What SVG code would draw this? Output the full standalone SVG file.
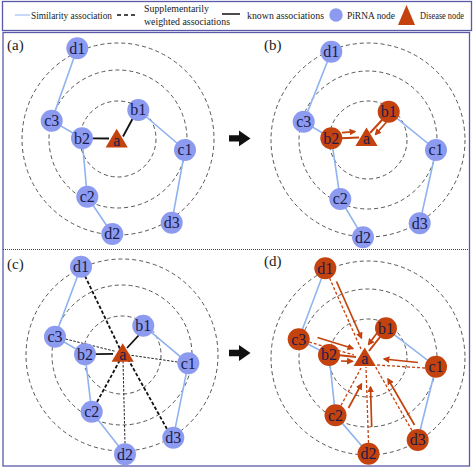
<svg xmlns="http://www.w3.org/2000/svg" width="474" height="470" viewBox="0 0 474 470">
<defs>
<style>
.frame{fill:none;stroke:#5a5aa8;stroke-width:1.3}
.ring{fill:none;stroke:#555;stroke-width:1;stroke-dasharray:4 3}
.sim{stroke:#8fb3ef;stroke-width:1.6;fill:none}
.known{stroke:#111;stroke-width:1.8}
.supT{stroke:#111;stroke-width:1.8;stroke-dasharray:3.5 2}
.supt{stroke:#222;stroke-width:1;stroke-dasharray:2.5 1.5}
.od{stroke:#c4420e;stroke-width:1.3;stroke-dasharray:3 2}
.os{stroke:#c4420e;stroke-width:2}
.oa{stroke:#c4420e;stroke-width:1.7;marker-end:url(#ah)}
.pn{fill:#8c9bf0}
.dn{fill:#c4420e}
.lbl{font-family:"Liberation Serif","DejaVu Serif","Times New Roman",serif;font-size:16px;fill:#1c1c4a;text-anchor:middle}
.pl{font-family:"Liberation Serif","DejaVu Serif","Times New Roman",serif;font-size:15px;fill:#222}
.lg{font-family:"Liberation Serif","DejaVu Serif","Times New Roman",serif;font-size:9.5px;fill:#1a1a1a}
</style>
<marker id="ah" viewBox="0 0 10 10" refX="8" refY="5" markerWidth="4" markerHeight="4" orient="auto" markerUnits="strokeWidth"><path d="M0,0 L10,5 L0,10 z" fill="#c4420e"/></marker>
</defs>
<rect width="474" height="470" fill="#fff"/>

<g id="legend">
<rect class="frame" x="2.5" y="1.5" width="469" height="29"/>
<line x1="15" y1="15" x2="30" y2="15" stroke="#8fb3ef" stroke-width="1"/>
<text class="lg" x="31" y="18.5" textLength="81" lengthAdjust="spacingAndGlyphs">Similarity association</text>
<line x1="117" y1="15" x2="137" y2="15" stroke="#111" stroke-width="1.5" stroke-dasharray="4 3"/>
<text class="lg" x="144" y="12" textLength="65" lengthAdjust="spacingAndGlyphs">Supplementarily</text>
<text class="lg" x="144" y="24.5" textLength="86" lengthAdjust="spacingAndGlyphs">weighted associations</text>
<line x1="222" y1="14" x2="240" y2="14" stroke="#111" stroke-width="1.5"/>
<text class="lg" x="247" y="18.5" textLength="77" lengthAdjust="spacingAndGlyphs">known associations</text>
<circle class="pn" cx="336" cy="15" r="6.7"/>
<text class="lg" x="347" y="18.5" textLength="48" lengthAdjust="spacingAndGlyphs">PiRNA node</text>
<path class="dn" d="M398,25 L406.5,5 L415,25 Z"/>
<text class="lg" x="420" y="18.5" textLength="44" lengthAdjust="spacingAndGlyphs">Disease node</text>
</g>

<g id="frame">
<rect class="frame" x="3" y="32.5" width="466.5" height="433.5"/>
<line x1="3" y1="249.5" x2="469.5" y2="249.5" stroke="#444" stroke-width="1" stroke-dasharray="1 1"/>
<path d="M229,135.2 H239 V130.5 L250.5,138.4 L239,146.3 V141.6 H229 Z" fill="#111"/>
<path d="M229,349.8 H239 V345 L250.5,353 L239,361 V356.2 H229 Z" fill="#111"/>
<text class="pl" x="7" y="50">(a)</text>
<text class="pl" x="264" y="49.5">(b)</text>
<text class="pl" x="7" y="268.5">(c)</text>
<text class="pl" x="264" y="266">(d)</text>
</g>

<g id="rings">
<circle class="ring" cx="118" cy="139" r="38"/><circle class="ring" cx="118" cy="139" r="69"/><circle class="ring" cx="118" cy="139" r="96"/>
<circle class="ring" cx="368" cy="140" r="39"/><circle class="ring" cx="368" cy="140" r="69"/><circle class="ring" cx="368" cy="140" r="97"/>
<circle class="ring" cx="122" cy="355" r="39"/><circle class="ring" cx="122" cy="355" r="70"/><circle class="ring" cx="122" cy="355" r="96"/>
<circle class="ring" cx="368" cy="358" r="39"/><circle class="ring" cx="368" cy="358" r="69"/><circle class="ring" cx="368" cy="358" r="97"/>
</g>

<g id="connectors">
<polyline class="sim" points="77.3,48.3 51.7,120.7 82,138.3 87.3,196.7 112.3,234"/>
<polyline class="sim" points="138.3,110 185,150 171.7,222.7"/>
<line class="known" x1="91" y1="138.3" x2="109" y2="138.5"/>
<line class="known" x1="133" y1="118" x2="123" y2="136.5"/>
<polyline class="sim" points="331.3,51.7 303.7,121.7 331.3,138.3 340.3,199 363,237.3"/>
<polyline class="sim" points="388.7,111.7 436,150 419.7,223.3"/>
<line class="os" x1="341" y1="138.3" x2="359" y2="137.5"/>
<line class="oa" x1="342" y1="132.6" x2="355" y2="131.6"/>
<line class="os" x1="382" y1="120" x2="370" y2="133"/>
<line class="oa" x1="386.5" y1="122" x2="375.5" y2="134.5"/>
<polyline class="sim" points="81,266.7 55,336.7 85,354.3 91.7,411.7 125,454.3"/>
<polyline class="sim" points="143.3,325.7 188.3,363.3 173.3,437.7"/>
<line class="known" x1="95" y1="354.2" x2="113" y2="353.8"/>
<line class="known" x1="139" y1="335" x2="127" y2="348"/>
<line class="supT" x1="85" y1="276" x2="120" y2="349"/>
<line class="supT" x1="97" y1="402" x2="120" y2="360"/>
<line class="supT" x1="167" y1="429" x2="128" y2="359"/>
<line class="supt" x1="65.5" y1="339" x2="116" y2="351.5"/>
<line class="supt" x1="177.5" y1="362" x2="129" y2="355"/>
<line class="supt" x1="125" y1="443.5" x2="123" y2="360"/>
<polyline class="sim" points="325.3,268.3 298.7,339.3 329,355 335.5,415.3 368.5,453.8"/>
<polyline class="sim" points="386,328.3 436,366.7 417.7,440"/>
<line class="od" x1="329.5" y1="278" x2="361" y2="349"/>
<line class="oa" x1="336.5" y1="281.5" x2="361.5" y2="338"/>
<line class="od" x1="309" y1="342" x2="354" y2="355"/>
<line class="oa" x1="317.5" y1="337.5" x2="353" y2="348.5"/>
<line class="os" x1="339.5" y1="355.3" x2="356" y2="357"/>
<line class="oa" x1="341" y1="361" x2="352.5" y2="361.3"/>
<line class="os" x1="380" y1="337" x2="369" y2="351"/>
<line class="oa" x1="377" y1="333" x2="368.5" y2="344.5"/>
<line class="od" x1="425" y1="368" x2="377" y2="365"/>
<line class="oa" x1="418" y1="362.5" x2="384" y2="359"/>
<line class="od" x1="341" y1="405.5" x2="361" y2="368"/>
<line class="oa" x1="348.5" y1="408" x2="361.5" y2="384"/>
<line class="od" x1="368.5" y1="443" x2="366" y2="367"/>
<line class="oa" x1="371.7" y1="427" x2="370.5" y2="387"/>
<line class="od" x1="412" y1="430.5" x2="375" y2="366"/>
<line class="oa" x1="414.5" y1="425" x2="388" y2="379"/>
</g>

<g id="pa-d1"><circle class="pn" cx="77.3" cy="48.3" r="11"/><text class="lbl" x="77.3" y="53.5">d1</text></g>
<g id="pa-c3"><circle class="pn" cx="51.7" cy="120.7" r="11"/><text class="lbl" x="51.7" y="125.9">c3</text></g>
<g id="pa-b2"><circle class="pn" cx="82" cy="138.3" r="11"/><text class="lbl" x="82" y="143.5">b2</text></g>
<g id="pa-b1"><circle class="pn" cx="138.3" cy="110" r="11"/><text class="lbl" x="138.3" y="115.2">b1</text></g>
<g id="pa-c1"><circle class="pn" cx="185" cy="150" r="11"/><text class="lbl" x="185" y="155.2">c1</text></g>
<g id="pa-c2"><circle class="pn" cx="87.3" cy="196.7" r="11"/><text class="lbl" x="87.3" y="201.9">c2</text></g>
<g id="pa-d2"><circle class="pn" cx="112.3" cy="234" r="11"/><text class="lbl" x="112.3" y="239.2">d2</text></g>
<g id="pa-d3"><circle class="pn" cx="171.7" cy="222.7" r="11"/><text class="lbl" x="171.7" y="227.9">d3</text></g>
<g id="pa-a"><path class="dn" d="M116.7,128.8 L127.8,147.5 L105.6,147.5 Z"/><text class="lbl" x="116.7" y="145.5">a</text></g>

<g id="pb-d1"><circle class="pn" cx="331.3" cy="51.7" r="11"/><text class="lbl" x="331.3" y="56.9">d1</text></g>
<g id="pb-c3"><circle class="pn" cx="303.7" cy="121.7" r="11"/><text class="lbl" x="303.7" y="126.9">c3</text></g>
<g id="pb-b2"><circle class="dn" cx="331.3" cy="138.3" r="11"/><text class="lbl" x="331.3" y="143.5">b2</text></g>
<g id="pb-b1"><circle class="dn" cx="388.7" cy="111.7" r="11"/><text class="lbl" x="388.7" y="116.9">b1</text></g>
<g id="pb-c1"><circle class="pn" cx="436" cy="150" r="11"/><text class="lbl" x="436" y="155.2">c1</text></g>
<g id="pb-c2"><circle class="pn" cx="340.3" cy="199" r="11"/><text class="lbl" x="340.3" y="204.2">c2</text></g>
<g id="pb-d2"><circle class="pn" cx="363" cy="237.3" r="11"/><text class="lbl" x="363" y="242.5">d2</text></g>
<g id="pb-d3"><circle class="pn" cx="419.7" cy="223.3" r="11"/><text class="lbl" x="419.7" y="228.5">d3</text></g>
<g id="pb-a"><path class="dn" d="M366.5,127.5 L377.6,146 L355.4,146 Z"/><text class="lbl" x="366.5" y="144">a</text></g>

<g id="pc-d1"><circle class="pn" cx="81" cy="266.7" r="11"/><text class="lbl" x="81" y="271.9">d1</text></g>
<g id="pc-c3"><circle class="pn" cx="55" cy="336.7" r="11"/><text class="lbl" x="55" y="341.9">c3</text></g>
<g id="pc-b2"><circle class="pn" cx="85" cy="354.3" r="11"/><text class="lbl" x="85" y="359.5">b2</text></g>
<g id="pc-b1"><circle class="pn" cx="143.3" cy="325.7" r="11"/><text class="lbl" x="143.3" y="330.9">b1</text></g>
<g id="pc-c1"><circle class="pn" cx="188.3" cy="363.3" r="11"/><text class="lbl" x="188.3" y="368.5">c1</text></g>
<g id="pc-c2"><circle class="pn" cx="91.7" cy="411.7" r="11"/><text class="lbl" x="91.7" y="416.9">c2</text></g>
<g id="pc-d2"><circle class="pn" cx="125" cy="454.3" r="11"/><text class="lbl" x="125" y="459.5">d2</text></g>
<g id="pc-d3"><circle class="pn" cx="173.3" cy="437.7" r="11"/><text class="lbl" x="173.3" y="442.9">d3</text></g>
<g id="pc-a"><path class="dn" d="M122.7,343.3 L133.8,361.8 L111.6,361.8 Z"/><text class="lbl" x="122.7" y="359.8">a</text></g>

<g id="pd-d1"><circle class="dn" cx="325.3" cy="268.3" r="11"/><text class="lbl" x="325.3" y="273.5">d1</text></g>
<g id="pd-c3"><circle class="dn" cx="298.7" cy="339.3" r="11"/><text class="lbl" x="298.7" y="344.5">c3</text></g>
<g id="pd-b2"><circle class="dn" cx="329" cy="355" r="11"/><text class="lbl" x="329" y="360.2">b2</text></g>
<g id="pd-b1"><circle class="dn" cx="386" cy="328.3" r="11"/><text class="lbl" x="386" y="333.5">b1</text></g>
<g id="pd-c1"><circle class="dn" cx="436" cy="366.7" r="11"/><text class="lbl" x="436" y="371.9">c1</text></g>
<g id="pd-c2"><circle class="dn" cx="335.5" cy="415.3" r="11"/><text class="lbl" x="335.5" y="420.5">c2</text></g>
<g id="pd-d2"><circle class="dn" cx="368.5" cy="453.8" r="11"/><text class="lbl" x="368.5" y="459">d2</text></g>
<g id="pd-d3"><circle class="dn" cx="417.7" cy="440" r="11"/><text class="lbl" x="417.7" y="445.2">d3</text></g>
<g id="pd-a"><path class="dn" d="M364.7,347.5 L375.8,366 L353.6,366 Z"/><text class="lbl" x="364.7" y="364">a</text></g>
</svg>
